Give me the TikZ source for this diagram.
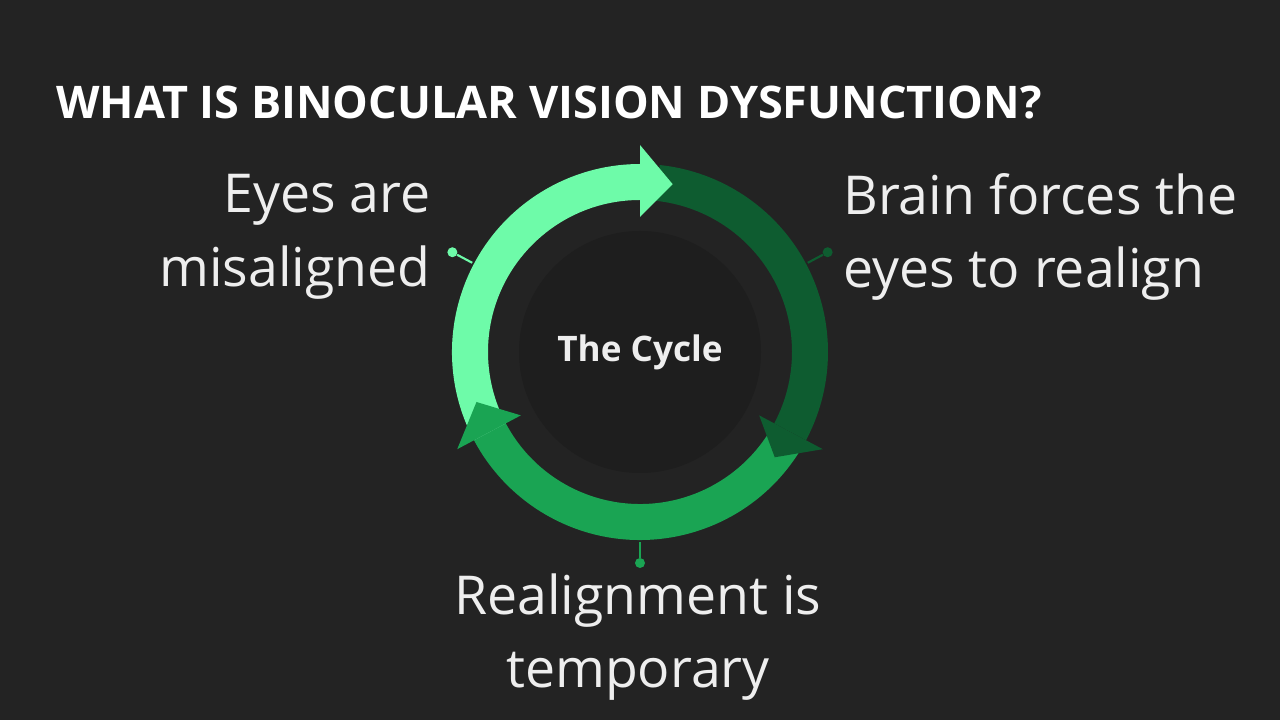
\documentclass[tikz,border=0pt]{standalone}
\usepackage{fontspec}
\setmainfont{Open Sans}
\definecolor{bg}{HTML}{232323}
\definecolor{inner}{HTML}{1E1E1E}
\definecolor{lg}{HTML}{6EFBA9}
\definecolor{dg}{HTML}{0E5C30}
\definecolor{mg}{HTML}{1AA453}
\definecolor{txt}{HTML}{EEEEEE}
% body: #1 colour, #2 start angle, #3 end angle
\newcommand{\ringbody}[3]{%
  \fill[#1] (#2:3.76) arc[start angle=#2,end angle=#3,radius=3.76]
    -- (#3:3.04) arc[start angle=#3,end angle=#2,radius=3.04] -- cycle;}
% head: #1 colour, #2 base angle, #3 tip angle
\newcommand{\ringhead}[3]{%
  \fill[#1] (#2:4.14) -- (#3:3.42) -- (#2:2.7) -- cycle;}
\begin{document}
\begin{tikzpicture}[x=1cm,y=1cm,
  lbl/.style={text=txt,font=\fontsize{30.5}{42}\selectfont,inner sep=0pt},
  dotc/.style={circle,inner sep=0pt,minimum size=0.2cm}]
\fill[bg] (0,0) rectangle (25.6,14.4);
\useasboundingbox (0,0) rectangle (25.6,14.4);
\node[anchor=west,text=white,font=\bfseries\fontsize{25.6}{30}\selectfont,inner sep=0pt] (title) at (1.12,12.36) {WHAT IS BINOCULAR VISION DYSFUNCTION?};
\begin{scope}[shift={(12.8,7.36)}]
\fill[inner] (0,0) circle (2.42);
\ringbody{dg}{84}{-28}
\ringbody{mg}{-30}{-152}
\ringbody{lg}{208}{90}
\ringhead{dg}{-28}{-38}
\ringhead{mg}{-152}{-163}
\ringhead{lg}{90}{79}
\node[dotc,fill=lg] (d1) at (152:4.25) {};
\coordinate (e1) at (152:3.8);
\node[dotc,fill=dg] (d2) at (28:4.25) {};
\coordinate (e2) at (28:3.8);
\node[dotc,fill=mg] (d3) at (-90:4.22) {};
\coordinate (e3) at (-90:3.8);
\end{scope}
\draw[lg,line width=1.2pt] (d1) -- (e1);
\draw[dg,line width=1.2pt] (d2) -- (e2);
\draw[mg,line width=1.2pt] (d3) -- (e3);
\node[text=txt,font=\bfseries\fontsize{20}{24}\selectfont] (cyc) at (12.8,7.36) {The Cycle};
\node[lbl,anchor=east,align=right] (l1) at (8.62,9.66) {Eyes are\\misaligned};
\node[lbl,anchor=west,align=left] (l2) at (16.86,9.66) {Brain forces the\\eyes to realign};
\node[lbl,align=center] (l3) at (12.76,1.66) {Realignment is\\temporary};
\end{tikzpicture}
\end{document}
